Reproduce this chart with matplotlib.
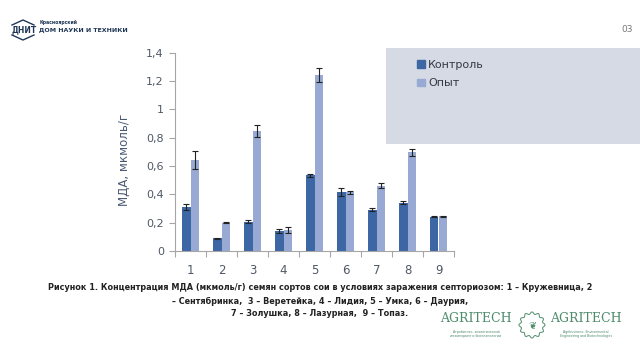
import matplotlib
matplotlib.use("Agg")
import matplotlib.pyplot as plt
import numpy as np
from matplotlib.patches import Rectangle, Polygon

categories = ["1", "2", "3", "4", "5", "6", "7", "8", "9"]
control = [0.31, 0.09, 0.207, 0.14, 0.535, 0.415, 0.292, 0.34, 0.242]
control_err = [0.02, 0.005, 0.01, 0.015, 0.012, 0.028, 0.01, 0.01, 0.003]
test = [0.642, 0.2, 0.847, 0.148, 1.24, 0.415, 0.461, 0.697, 0.244]
test_err = [0.062, 0.004, 0.04, 0.018, 0.05, 0.01, 0.017, 0.025, 0.005]
yticks = [0, 0.2, 0.4, 0.6, 0.8, 1.0, 1.2, 1.4]
ytick_labels = ["0", "0,2", "0,4", "0,6", "0,8", "1", "1,2", "1,4"]
series_names = ["Контроль", "Опыт"]
caption_lines = [
    "Рисунок 1. Концентрация МДА (мкмоль/г) семян сортов сои в условиях заражения септориозом: 1 – Кружевница, 2",
    "– Сентябринка,  3 – Веретейка, 4 – Лидия, 5 – Умка, 6 – Даурия,",
    "7 – Золушка, 8 – Лазурная,  9 – Топаз.",
]

c_dark = "#3d66a5"
c_light = "#98aad3"
grey_txt = "#4f5866"
axis_col = "#a6a6a6"

fig = plt.figure(figsize=(6.4, 3.6), dpi=100)
fig.patch.set_facecolor("white")

ax = fig.add_axes([175/640, 1-251/360, (454-175)/640, (251-52.7)/360])
x = np.arange(len(categories))
w = 0.29
ax.bar(x - w/2, control, w, color=c_dark, yerr=control_err, ecolor="#222222",
       error_kw=dict(elinewidth=0.8, capsize=2, capthick=0.8), zorder=2)
ax.bar(x + w/2, test, w, color=c_light, yerr=test_err, ecolor="#222222",
       error_kw=dict(elinewidth=0.8, capsize=2, capthick=0.8), zorder=2)
ax.set_xlim(-0.5, len(categories) - 0.5)
ax.set_ylim(0, 1.4)
ax.set_yticks(yticks)
ax.set_yticklabels(ytick_labels, fontsize=8, color=grey_txt)
ax.set_xticks(x)
ax.set_xticklabels(categories, fontsize=8.5, color=grey_txt)
ax.set_xticks(np.arange(-0.5, len(categories)), minor=True)
ax.tick_params(axis="x", which="major", length=0, pad=9)
ax.tick_params(axis="x", which="minor", length=4, color=axis_col, width=0.8)
ax.tick_params(axis="y", length=4, color=axis_col, width=0.8, pad=4)
for s in ["top", "right"]:
    ax.spines[s].set_visible(False)
for s in ["left", "bottom"]:
    ax.spines[s].set_color(axis_col)
    ax.spines[s].set_linewidth(0.8)
ax.set_ylabel("МДА, мкмоль/г", fontsize=8.5, color="#4a5a74")
ax.yaxis.set_label_coords(-0.158, 0.46)

# legend box
fig.patches.append(Rectangle((386/640, 1-144/360), (640-386)/640, (144-48)/360,
                             transform=fig.transFigure, facecolor="#d6dae4",
                             edgecolor="none", zorder=5))
handles = [Rectangle((0, 0), 1, 1, color=c_dark), Rectangle((0, 0), 1, 1, color=c_light)]
leg = fig.legend(handles, series_names, loc="upper left",
                 bbox_to_anchor=(407/640, 1-50/360), frameon=False,
                 fontsize=8, handlelength=0.7, handleheight=0.7, handletextpad=0.3,
                 labelspacing=0.75, labelcolor="#333a45")
leg.set_zorder(6)

# caption (one text per line)
for yy, line in zip([288, 301, 314], caption_lines):
    fig.text(320/640, 1-yy/360, line, ha="center", va="center", fontsize=6.45,
             fontweight="bold", color="#222222", family="DejaVu Sans",
             stretch="condensed")

# header
navy = "#1f3656"
fig.text(11/640, 1-30/360, "ДНИТ", fontsize=5.5, fontweight="bold", color=navy, va="center")
fig.text(40/640, 1-22/360, "Красноярский", fontsize=3.3, fontweight="bold", color=navy, va="center")
fig.text(39/640, 1-30/360, "ДОМ НАУКИ И ТЕХНИКИ", fontsize=4.5, fontweight="bold", color=navy, va="center")
fig.lines.append(plt.Line2D([12/640, 23/640, 34/640], [1-25/360, 1-20/360, 1-25/360],
                            transform=fig.transFigure, color=navy, lw=1))
fig.lines.append(plt.Line2D([12/640, 23/640, 34/640], [1-35/360, 1-40/360, 1-35/360],
                            transform=fig.transFigure, color=navy, lw=1))
fig.text(627/640, 1-30/360, "03", fontsize=6.5, color="#777777", va="center", ha="center")

# AGRITECH logos
green = "#4f8c6c"
fig.text(476/640, 1-318/360, "AGRITECH", fontsize=9, color=green, family="DejaVu Serif",
         ha="center", va="center")
fig.text(586/640, 1-318/360, "AGRITECH", fontsize=9, color=green, family="DejaVu Serif",
         ha="center", va="center")
fig.text(476/640, 1-334/360, "Агробизнес, экологический\nинжиниринг и биотехнологии",
         fontsize=2.3, color=green, ha="center", va="center")
fig.text(586/640, 1-334/360, "Agribusiness, Environmental\nEngineering and Biotechnologies",
         fontsize=2.3, color=green, ha="center", va="center")
t = np.linspace(0, 2*np.pi, 60)
r = 12 + 1.2*np.cos(12*t)
fig.patches.append(Polygon(np.c_[(532 + r*np.cos(t))/640, (1-325/360) + r*np.sin(t)/360],
                           closed=True, transform=fig.transFigure, fill=False,
                           edgecolor=green, lw=0.7))
fig.text(532/640, 1-325/360, "❦", fontsize=7, color=green, ha="center", va="center")

fig.savefig("out.png", dpi=100)
